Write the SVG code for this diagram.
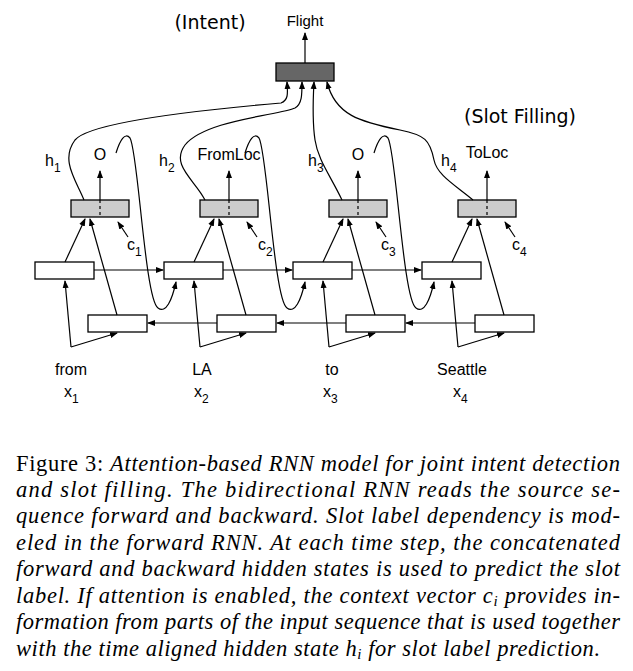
<svg xmlns="http://www.w3.org/2000/svg" width="633" height="671" viewBox="0 0 633 671">
<style>
.lbl{font-family:"Liberation Sans",Arial,sans-serif;font-size:16px;fill:#000}
.sub{font-size:12px}
.big{font-family:"DejaVu Sans",sans-serif;font-size:19px}
.cap{font-family:"Liberation Serif","Times New Roman",serif;font-size:22.5px;fill:#000}
.it{font-style:italic}
.box{fill:#fff;stroke:#000;stroke-width:1.3}
.gbox{fill:#ccc;stroke:#000;stroke-width:1.3}
.ln{fill:none;stroke:#000;stroke-width:1.2;marker-end:url(#ah)}
.cv{fill:none;stroke:#000;stroke-width:1.2}
</style>
<defs>
<marker id="ah" markerWidth="8" markerHeight="8" refX="7" refY="4" orient="auto" markerUnits="userSpaceOnUse">
<path d="M0,1 L8,4 L0,7 z" fill="#000"/>
</marker>
</defs>
<rect width="633" height="671" fill="#fff"/>
<text class="big" x="210" y="29" text-anchor="middle">(Intent)</text>
<text class="lbl" x="305" y="26" text-anchor="middle" style="font-size:15px">Flight</text>
<text class="big" x="520" y="123" text-anchor="middle">(Slot Filling)</text>

<g id="flight"><rect x="276" y="63" width="58" height="18" fill="#666" stroke="#000" stroke-width="1.3"/></g>

<g id="nodes">
<g id="step1">
<rect class="gbox" x="71" y="200" width="58" height="17"/>
<rect class="box" x="35" y="262" width="59" height="17"/>
<rect class="box" x="88" y="315" width="59" height="17"/>
<text class="lbl" x="100" y="160" text-anchor="middle">O</text>
<text class="lbl" x="45" y="166">h<tspan class="sub" dy="6">1</tspan></text>
<text class="lbl" x="127" y="250">c<tspan class="sub" dy="6">1</tspan></text>
<text class="lbl" x="71" y="375" text-anchor="middle">from</text>
<text class="lbl" x="64" y="397">x<tspan class="sub" dy="6">1</tspan></text>
</g>
<g id="step2">
<rect class="gbox" x="200" y="200" width="58" height="17"/>
<rect class="box" x="164" y="262" width="59" height="17"/>
<rect class="box" x="217" y="315" width="59" height="17"/>
<text class="lbl" x="229" y="160" text-anchor="middle">FromLoc</text>
<text class="lbl" x="159" y="166">h<tspan class="sub" dy="6">2</tspan></text>
<text class="lbl" x="258" y="250">c<tspan class="sub" dy="6">2</tspan></text>
<text class="lbl" x="202" y="375" text-anchor="middle">LA</text>
<text class="lbl" x="194" y="397">x<tspan class="sub" dy="6">2</tspan></text>
</g>
<g id="step3">
<rect class="gbox" x="329" y="200" width="58" height="17"/>
<rect class="box" x="293" y="262" width="59" height="17"/>
<rect class="box" x="346" y="315" width="59" height="17"/>
<text class="lbl" x="358" y="160" text-anchor="middle">O</text>
<text class="lbl" x="308" y="166">h<tspan class="sub" dy="6">3</tspan></text>
<text class="lbl" x="381" y="250">c<tspan class="sub" dy="6">3</tspan></text>
<text class="lbl" x="332" y="375" text-anchor="middle">to</text>
<text class="lbl" x="323" y="397">x<tspan class="sub" dy="6">3</tspan></text>
</g>
<g id="step4">
<rect class="gbox" x="458" y="200" width="58" height="17"/>
<rect class="box" x="422" y="262" width="59" height="17"/>
<rect class="box" x="475" y="315" width="59" height="17"/>
<text class="lbl" x="487" y="158" text-anchor="middle">ToLoc</text>
<text class="lbl" x="441" y="166">h<tspan class="sub" dy="6">4</tspan></text>
<text class="lbl" x="512" y="250">c<tspan class="sub" dy="6">4</tspan></text>
<text class="lbl" x="462" y="375" text-anchor="middle">Seattle</text>
<text class="lbl" x="453" y="397">x<tspan class="sub" dy="6">4</tspan></text>
</g>
</g>

<g id="connectors">
<path class="ln" d="M305,63 V33"/>
<g id="s1c">
<path class="cv" d="M100,200 V217" stroke-dasharray="3,3"/>
<path class="ln" d="M100,200 V171"/>
<path class="ln" d="M71,347 L65,281"/>
<path class="ln" d="M71,347 L117,333"/>
<path class="ln" d="M65,262 L85,219"/>
<path class="ln" d="M117,315 L90,219"/>
<path class="ln" d="M128,237 L118,222"/>
<path class="ln" d="M94,270 H163"/>
<path class="ln" d="M84,200 C76,180 60,160 75,140 C90,122 200,110 281,103 C288,100 288,95 287,82"/>
<path class="ln" d="M116,153 C120,140 125,132 130,138 C138,150 145,300 158,308 C166,314 172,300 176,282"/>
</g>
<g id="s2c">
<path class="cv" d="M229,200 V217" stroke-dasharray="3,3"/>
<path class="ln" d="M229,200 V171"/>
<path class="ln" d="M200,347 L194,281"/>
<path class="ln" d="M200,347 L246,333"/>
<path class="ln" d="M194,262 L214,219"/>
<path class="ln" d="M246,315 L219,219"/>
<path class="ln" d="M257,237 L247,222"/>
<path class="ln" d="M223,270 H292"/>
<path class="ln" d="M205,200 C195,180 170,165 185,145 C205,120 280,115 295,108 C302,104 302,95 302,82"/>
<path class="ln" d="M245,153 C249,140 254,132 259,138 C267,150 274,300 287,308 C295,314 301,300 305,282"/>
</g>
<g id="s3c">
<path class="cv" d="M358,200 V217" stroke-dasharray="3,3"/>
<path class="ln" d="M358,200 V171"/>
<path class="ln" d="M329,347 L323,281"/>
<path class="ln" d="M329,347 L375,333"/>
<path class="ln" d="M323,262 L343,219"/>
<path class="ln" d="M375,315 L348,219"/>
<path class="ln" d="M386,237 L376,222"/>
<path class="ln" d="M352,270 H421"/>
<path class="ln" d="M342,200 C330,175 318,160 315,140 C312,120 313,100 314,82"/>
<path class="ln" d="M374,153 C378,140 383,132 388,138 C396,150 403,300 416,308 C424,314 430,300 434,282"/>
</g>
<g id="s4c">
<path class="cv" d="M487,200 V217" stroke-dasharray="3,3"/>
<path class="ln" d="M487,200 V171"/>
<path class="ln" d="M458,347 L452,281"/>
<path class="ln" d="M458,347 L504,333"/>
<path class="ln" d="M452,262 L472,219"/>
<path class="ln" d="M504,315 L477,219"/>
<path class="ln" d="M515,237 L505,222"/>
<path class="ln" d="M473,200 C455,185 437,175 434,160 C430,140 425,135 400,130 C360,122 335,115 327,82"/>
</g>
<path class="ln" d="M475,323 H406"/>
<path class="ln" d="M346,323 H277"/>
<path class="ln" d="M217,323 H148"/>
</g>

<g id="caption" class="cap">
<text x="16" y="471" textLength="604" lengthAdjust="spacing">Figure 3: <tspan class="it">Attention-based RNN model for joint intent detection</tspan></text>
<text class="it" x="16" y="497" textLength="604" lengthAdjust="spacing">and slot filling. The bidirectional RNN reads the source se-</text>
<text class="it" x="16" y="523" textLength="604" lengthAdjust="spacing">quence forward and backward. Slot label dependency is mod-</text>
<text class="it" x="16" y="550" textLength="604" lengthAdjust="spacing">eled in the forward RNN. At each time step, the concatenated</text>
<text class="it" x="16" y="576" textLength="604" lengthAdjust="spacing">forward and backward hidden states is used to predict the slot</text>
<text class="it" x="16" y="603" textLength="604" lengthAdjust="spacing">label. If attention is enabled, the context vector c<tspan font-size="15" dy="3">i</tspan><tspan dy="-3"> provides in-</tspan></text>
<text class="it" x="16" y="629" textLength="604" lengthAdjust="spacing">formation from parts of the input sequence that is used together</text>
<text class="it" x="16" y="656" textLength="584" lengthAdjust="spacing">with the time aligned hidden state h<tspan font-size="15" dy="3">i</tspan><tspan dy="-3"> for slot label prediction.</tspan></text>
</g>
</svg>
